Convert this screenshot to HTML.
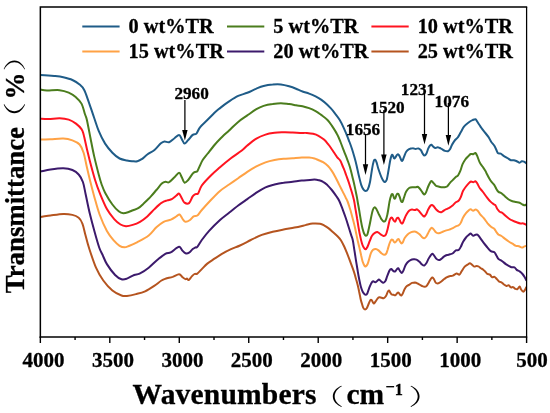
<!DOCTYPE html>
<html><head><meta charset="utf-8"><title>FTIR</title>
<style>
html,body{margin:0;padding:0;background:#fff;}
svg{display:block;}
text{font-family:"Liberation Serif","Noto Serif CJK SC",serif;font-weight:bold;fill:#000;stroke:#000;stroke-width:0.3px;}
.cj{font-family:"Noto Serif CJK SC","Liberation Serif",serif;font-weight:300;stroke:none;}
</style></head><body>
<svg width="550" height="413" viewBox="0 0 550 413">
<rect x="0" y="0" width="550" height="413" fill="#fff"/>

<clipPath id="cp"><rect x="40.35" y="6.9" width="486.25" height="330.1"/></clipPath>
<g clip-path="url(#cp)" fill="none" stroke-linejoin="round" stroke-linecap="round">
<path d="M40.5,75.1C42.8,75.2 50.4,75.6 54.2,76.0C58.0,76.4 60.3,76.6 63.3,77.3C66.3,78.0 69.7,78.8 72.4,80.0C75.1,81.2 77.6,82.8 79.6,84.5C81.6,86.2 82.7,87.1 84.2,90.0C85.7,92.9 87.0,97.1 88.7,101.8C90.4,106.5 92.5,113.2 94.2,118.0C95.9,122.8 96.9,126.6 98.7,130.9C100.5,135.2 102.8,140.0 105.1,143.6C107.4,147.2 110.0,150.2 112.4,152.7C114.8,155.2 117.2,157.2 119.6,158.5C122.0,159.8 124.8,160.0 126.9,160.4C129.0,160.8 130.3,161.0 132.0,161.2C133.7,161.3 135.7,161.7 137.3,161.3C138.9,161.0 140.1,160.2 141.8,159.1C143.5,158.0 145.2,156.0 147.3,154.5C149.4,153.0 152.2,151.9 154.5,150.0C156.8,148.1 159.2,144.7 160.9,143.3C162.6,141.9 163.1,141.7 164.5,141.5C165.9,141.3 167.4,142.8 169.1,142.2C170.8,141.6 172.8,139.4 174.5,138.2C176.2,137.0 177.9,134.9 179.1,135.1C180.3,135.2 180.9,137.7 181.8,139.1C182.7,140.5 183.4,143.4 184.5,143.6C185.6,143.8 186.8,141.4 188.2,140.0C189.6,138.6 191.3,136.0 192.7,134.9C194.1,133.8 195.2,134.9 196.4,133.6C197.6,132.3 198.2,129.6 200.0,127.3C201.8,125.0 204.9,122.4 207.3,120.0C209.7,117.6 212.4,114.7 214.5,112.7C216.6,110.7 217.6,110.0 220.0,108.1C222.4,106.2 226.1,103.4 229.1,101.4C232.1,99.4 235.2,97.3 238.2,95.9C241.2,94.5 244.3,94.0 247.3,92.8C250.3,91.6 253.7,89.7 256.4,88.6C259.1,87.5 260.9,86.7 263.6,86.0C266.3,85.3 269.8,84.8 272.7,84.6C275.6,84.3 278.2,84.2 280.9,84.5C283.6,84.8 286.6,85.6 289.1,86.3C291.6,87.0 293.8,87.8 296.0,88.7C298.2,89.6 300.3,90.7 302.5,91.5C304.7,92.3 306.9,92.8 309.1,93.6C311.3,94.4 313.6,95.4 315.6,96.4C317.6,97.4 319.3,98.3 321.1,99.6C322.9,100.9 324.9,102.5 326.5,104.0C328.1,105.5 329.4,106.8 330.9,108.4C332.4,110.0 333.9,111.9 335.3,113.8C336.8,115.7 338.2,117.5 339.6,119.8C341.0,122.1 342.4,125.0 343.6,127.6C344.8,130.2 345.9,132.9 346.9,135.3C347.9,137.7 348.6,139.7 349.5,142.0C350.4,144.3 351.2,146.5 352.0,149.0C352.8,151.5 353.6,154.2 354.4,157.0C355.2,159.8 356.0,162.9 356.7,166.0C357.4,169.1 358.0,172.3 358.8,175.5C359.6,178.7 360.5,182.8 361.3,185.1C362.1,187.4 362.7,188.4 363.4,189.4C364.1,190.4 364.9,191.1 365.6,191.1C366.3,191.1 367.1,190.8 367.8,189.4C368.5,188.0 369.2,185.8 369.9,182.5C370.6,179.2 371.4,172.8 372.0,169.3C372.6,165.8 373.2,162.9 373.7,161.3C374.2,159.7 374.7,159.6 375.2,159.8C375.7,160.0 376.1,161.1 376.7,162.7C377.2,164.3 377.7,166.9 378.5,169.3C379.3,171.7 380.6,175.3 381.5,177.3C382.4,179.3 383.0,180.4 383.6,181.2C384.2,182.0 384.6,182.2 385.1,181.9C385.6,181.6 386.2,181.6 386.8,179.5C387.4,177.4 388.1,172.5 388.7,169.3C389.3,166.1 389.7,162.8 390.2,160.5C390.7,158.2 391.2,156.4 391.6,155.5C392.0,154.6 392.3,154.5 392.7,155.0C393.1,155.5 393.7,158.0 394.1,158.4C394.5,158.8 394.8,158.2 395.3,157.6C395.8,157.0 396.5,155.4 397.0,154.9C397.5,154.4 397.8,154.1 398.2,154.3C398.6,154.5 399.1,155.2 399.6,156.2C400.1,157.2 400.9,159.6 401.4,160.3C401.9,161.0 402.1,161.1 402.5,160.5C402.9,159.9 403.4,158.3 404.0,156.9C404.6,155.5 405.3,153.1 406.2,151.8C407.1,150.5 408.0,149.8 409.1,149.2C410.2,148.6 411.6,148.2 412.7,148.2C413.8,148.1 414.6,148.9 415.6,148.9C416.6,148.9 417.6,148.2 418.5,148.4C419.4,148.6 420.2,149.3 420.9,150.2C421.6,151.1 422.2,152.9 422.8,153.8C423.4,154.7 423.9,155.6 424.5,155.6C425.1,155.6 425.7,155.0 426.3,153.8C426.9,152.7 427.6,150.1 428.2,148.7C428.8,147.3 429.6,146.1 430.1,145.4C430.7,144.8 431.0,144.6 431.5,144.8C432.0,145.0 432.6,146.3 433.3,146.8C434.0,147.3 434.8,147.9 435.5,148.0C436.2,148.1 436.9,147.3 437.6,147.3C438.3,147.3 439.1,147.7 439.8,148.0C440.5,148.3 441.1,148.7 442.0,149.2C442.9,149.7 443.9,150.6 444.9,150.9C445.9,151.2 447.1,151.5 448.0,151.2C448.9,150.9 449.3,150.3 450.0,149.2C450.7,148.1 451.3,145.9 452.2,144.4C453.1,142.9 454.1,141.2 455.1,140.0C456.1,138.8 457.0,138.4 458.0,137.1C459.0,135.8 459.9,133.7 460.9,132.0C461.9,130.3 462.8,128.2 463.8,126.9C464.8,125.6 465.7,124.8 466.7,124.0C467.7,123.2 468.6,122.5 469.6,121.8C470.6,121.1 471.5,120.5 472.5,120.1C473.5,119.7 474.6,119.0 475.4,119.2C476.2,119.4 476.6,120.6 477.2,121.5C477.8,122.4 478.4,123.5 479.1,124.5C479.8,125.5 480.5,126.6 481.3,127.8C482.1,129.0 483.0,130.1 484.2,131.6C485.4,133.1 487.2,135.2 488.4,136.9C489.6,138.6 490.3,140.6 491.3,142.0C492.3,143.4 493.4,144.3 494.2,145.6C495.0,146.9 495.8,148.7 496.4,150.0C497.0,151.3 497.4,152.7 498.1,153.3C498.8,153.9 499.8,153.2 500.7,153.6C501.6,154.0 502.5,155.1 503.6,155.8C504.7,156.5 506.1,157.3 507.3,158.0C508.5,158.7 509.8,159.8 510.9,160.2C512.0,160.6 512.8,160.0 513.8,160.2C514.8,160.4 515.7,160.8 516.7,161.2C517.7,161.6 518.8,162.7 519.6,162.7C520.5,162.7 521.1,161.4 521.8,161.2C522.5,161.0 523.3,161.3 524.0,161.6C524.7,161.9 525.8,162.8 526.2,163.1" stroke="#1f5c88" stroke-width="2.0"/>
<path d="M40.5,89.6C41.6,89.8 43.7,90.4 46.9,90.5C50.1,90.6 56.0,89.8 59.6,90.2C63.2,90.6 66.0,91.5 68.7,92.7C71.4,93.9 73.9,95.5 76.0,97.3C78.1,99.1 80.0,100.7 81.5,103.6C83.0,106.5 84.2,111.8 85.1,114.5C86.0,117.2 86.0,116.0 86.9,120.0C87.8,124.0 89.3,132.1 90.5,138.2C91.7,144.3 92.8,150.3 94.2,156.4C95.6,162.5 97.5,169.9 98.7,174.5C99.9,179.1 100.4,181.0 101.5,184.0C102.6,187.0 103.3,189.3 105.1,192.7C106.9,196.1 110.1,201.4 112.4,204.5C114.7,207.6 116.9,209.9 118.7,211.3C120.5,212.8 121.6,213.1 123.3,213.2C125.0,213.3 127.1,212.5 128.7,212.0C130.3,211.5 131.4,210.8 133.0,210.2C134.6,209.6 136.4,209.3 138.2,208.2C140.0,207.1 141.5,205.6 143.6,203.6C145.7,201.6 148.8,198.7 150.9,196.4C153.0,194.1 154.6,192.1 156.4,190.0C158.2,187.9 160.3,185.0 161.8,183.6C163.3,182.2 164.3,182.0 165.5,181.8C166.7,181.6 167.6,182.9 169.1,182.2C170.6,181.4 172.8,178.9 174.5,177.3C176.2,175.7 177.9,172.7 179.1,172.7C180.3,172.7 180.9,175.6 181.8,177.3C182.7,179.0 183.4,182.2 184.5,182.7C185.6,183.1 186.8,181.5 188.2,180.0C189.6,178.5 191.5,175.0 192.7,173.6C193.9,172.2 194.7,172.2 195.5,171.8C196.3,171.4 196.6,172.4 197.3,171.3C198.1,170.2 199.1,167.4 200.0,165.5C200.9,163.6 201.5,161.9 202.7,160.0C203.9,158.1 205.3,156.5 207.3,154.0C209.3,151.5 212.4,147.5 214.5,145.0C216.6,142.5 217.6,141.4 220.0,139.0C222.4,136.6 226.1,133.3 229.1,130.5C232.1,127.7 235.2,124.4 238.2,121.9C241.2,119.4 244.3,117.5 247.3,115.4C250.3,113.3 253.7,110.8 256.4,109.2C259.1,107.6 260.9,106.8 263.6,105.9C266.3,105.1 269.8,104.5 272.7,104.1C275.6,103.6 278.2,103.2 280.9,103.2C283.6,103.2 286.6,103.8 289.1,104.1C291.6,104.4 293.8,104.9 296.0,105.3C298.2,105.7 300.3,105.7 302.5,106.2C304.7,106.7 306.9,107.3 309.1,108.1C311.3,108.9 313.6,110.0 315.6,111.1C317.6,112.2 319.1,113.4 321.1,114.9C323.1,116.4 325.7,118.2 327.5,120.0C329.3,121.8 330.2,123.2 331.8,125.6C333.4,128.0 335.7,131.5 337.1,134.2C338.6,136.9 339.4,139.2 340.5,142.0C341.6,144.8 342.8,148.0 343.9,150.9C345.0,153.8 346.3,156.9 347.3,159.6C348.3,162.3 348.9,163.7 349.9,167.0C350.9,170.3 352.2,175.9 353.1,179.6C354.0,183.3 354.7,186.5 355.3,189.4C355.9,192.3 356.5,194.9 356.9,197.1C357.3,199.3 357.4,200.2 357.8,202.5C358.2,204.8 358.8,207.9 359.3,210.9C359.8,213.9 360.4,217.8 360.9,220.7C361.4,223.6 361.9,226.2 362.5,228.4C363.1,230.6 363.6,232.6 364.2,233.8C364.8,235.0 365.3,235.7 365.8,235.8C366.3,235.9 366.8,235.8 367.4,234.4C367.9,233.0 368.5,230.3 369.1,227.3C369.8,224.3 370.7,219.3 371.3,216.4C371.9,213.5 372.4,211.3 372.9,209.8C373.4,208.3 373.9,207.6 374.5,207.4C375.1,207.2 375.6,207.8 376.2,208.7C376.8,209.6 377.7,211.8 378.3,213.1C378.9,214.4 379.5,215.4 380.0,216.4C380.5,217.4 380.9,218.5 381.5,219.3C382.1,220.2 383.0,221.3 383.6,221.5C384.2,221.7 384.8,221.8 385.4,220.7C386.0,219.6 386.6,218.1 387.3,214.9C388.0,211.8 388.9,205.1 389.5,201.8C390.1,198.5 390.7,196.6 391.2,195.3C391.7,194.1 392.2,193.8 392.7,194.3C393.2,194.8 393.7,197.5 394.1,198.2C394.5,198.8 394.9,198.8 395.3,198.2C395.7,197.6 396.2,195.2 396.7,194.5C397.2,193.8 397.7,193.4 398.2,193.8C398.7,194.2 399.1,195.5 399.6,196.7C400.1,197.9 400.6,200.2 401.1,201.1C401.6,201.9 402.0,202.4 402.5,201.8C403.0,201.2 403.4,199.2 404.0,197.5C404.6,195.8 405.3,193.2 406.2,191.6C407.1,190.0 408.0,188.7 409.1,188.0C410.2,187.3 411.6,187.3 412.7,187.2C413.8,187.1 414.8,187.3 415.6,187.2C416.4,187.1 417.0,186.8 417.5,186.8C418.0,186.9 418.1,186.9 418.7,187.5C419.3,188.1 420.2,189.2 420.9,190.1C421.6,191.0 422.2,192.3 422.8,193.0C423.4,193.7 423.8,194.6 424.3,194.5C424.8,194.4 425.4,193.6 426.0,192.3C426.6,191.0 427.5,188.2 428.2,186.5C428.9,184.8 429.8,183.0 430.4,182.1C431.0,181.2 431.3,180.9 431.8,181.1C432.3,181.3 432.9,182.3 433.6,183.1C434.3,183.9 435.1,185.1 435.9,185.7C436.7,186.3 437.5,186.2 438.4,186.5C439.3,186.8 440.3,187.1 441.3,187.2C442.3,187.3 443.2,187.3 444.2,187.2C445.2,187.1 446.1,187.2 447.1,186.5C448.1,185.8 449.0,183.9 450.0,182.8C451.0,181.7 451.9,180.9 452.9,179.9C453.9,178.9 454.9,177.7 455.8,177.0C456.7,176.3 457.3,176.5 458.0,175.5C458.7,174.5 459.4,173.1 460.2,171.2C461.0,169.3 461.8,165.8 462.7,163.9C463.6,162.0 464.4,160.8 465.3,159.5C466.2,158.2 467.3,157.2 468.2,156.3C469.1,155.4 469.9,154.3 470.8,154.0C471.7,153.7 472.5,154.4 473.3,154.2C474.1,154.0 474.8,152.7 475.4,153.0C476.0,153.3 476.5,154.3 477.2,155.9C477.9,157.5 478.8,160.6 479.7,162.4C480.6,164.2 481.7,165.3 482.7,166.8C483.7,168.3 484.9,170.0 485.6,171.2C486.3,172.4 486.1,172.4 486.9,174.0C487.7,175.6 489.3,178.7 490.5,180.5C491.7,182.3 493.2,183.5 494.2,184.9C495.2,186.3 495.7,187.8 496.4,189.0C497.1,190.2 497.6,191.2 498.5,191.9C499.4,192.6 500.4,192.5 501.5,193.3C502.6,194.1 503.9,195.5 505.1,196.5C506.3,197.5 507.5,198.7 508.7,199.5C509.9,200.3 511.2,200.8 512.4,201.2C513.6,201.6 514.8,201.8 516.0,202.1C517.2,202.3 518.5,202.3 519.6,202.7C520.7,203.1 521.6,204.1 522.5,204.5C523.4,204.9 524.1,205.3 524.7,205.3C525.3,205.3 526.0,204.6 526.2,204.5" stroke="#4b7d1d" stroke-width="2.0"/>
<path d="M40.5,118.7C41.9,118.8 45.5,119.2 48.7,119.1C51.9,119.0 56.3,118.1 59.6,118.2C62.9,118.3 66.0,118.7 68.7,119.6C71.4,120.5 73.9,122.0 76.0,123.6C78.1,125.2 80.2,127.3 81.5,129.1C82.8,130.9 82.7,131.2 83.6,134.5C84.5,137.8 85.8,144.2 86.9,149.0C88.1,153.8 89.1,158.4 90.5,163.6C91.9,168.8 93.6,175.2 95.1,180.0C96.6,184.8 97.6,187.8 99.6,192.7C101.6,197.5 104.5,204.7 106.9,209.1C109.3,213.5 111.9,216.5 114.2,219.1C116.5,221.7 118.5,223.3 120.5,224.5C122.5,225.7 124.0,226.1 126.0,226.2C128.0,226.3 130.4,225.6 132.7,224.9C135.0,224.2 137.6,223.2 140.0,221.8C142.4,220.4 144.9,218.5 147.3,216.4C149.7,214.3 152.1,211.4 154.5,209.1C156.9,206.8 159.7,204.1 161.8,202.7C163.9,201.2 165.6,201.0 167.3,200.4C169.0,199.8 170.3,199.9 171.8,199.1C173.3,198.3 175.2,196.4 176.4,195.5C177.6,194.6 178.2,193.2 179.1,193.6C180.0,194.0 180.9,196.7 181.8,198.2C182.7,199.7 183.3,201.9 184.5,202.7C185.7,203.5 187.7,204.1 189.1,203.1C190.5,202.1 191.6,197.9 192.7,196.4C193.8,194.9 194.6,194.7 195.5,194.2C196.4,193.7 197.1,194.8 198.2,193.3C199.2,191.9 199.7,188.5 201.8,185.5C203.9,182.5 207.9,178.5 210.9,175.5C213.9,172.5 216.7,170.2 220.0,167.3C223.3,164.4 227.3,161.1 230.9,158.3C234.5,155.5 239.1,152.6 241.8,150.5C244.5,148.4 244.9,147.5 247.3,145.5C249.7,143.5 253.4,140.4 256.4,138.6C259.4,136.8 262.5,135.6 265.5,134.6C268.5,133.6 271.5,133.2 274.5,132.8C277.5,132.4 280.6,132.4 283.6,132.3C286.6,132.2 290.0,132.4 292.7,132.5C295.4,132.6 297.7,132.8 300.0,132.9C302.3,133.0 304.3,132.8 306.5,132.9C308.7,133.1 311.1,133.3 313.1,133.8C315.1,134.3 316.7,134.8 318.5,135.8C320.3,136.8 322.4,138.2 324.0,139.6C325.6,141.0 326.9,142.7 328.4,144.5C329.8,146.3 331.2,148.4 332.7,150.5C334.1,152.6 335.9,155.4 337.1,157.1C338.4,158.8 339.3,159.1 340.2,160.5C341.1,161.9 341.7,163.8 342.4,165.5C343.1,167.2 343.9,168.8 344.5,170.5C345.1,172.2 345.5,173.2 346.3,175.5C347.1,177.8 348.4,181.1 349.3,184.0C350.2,186.9 351.2,190.0 352.0,192.7C352.8,195.4 353.4,197.6 354.0,200.3C354.6,203.0 354.9,205.7 355.4,208.7C355.9,211.7 356.6,215.2 357.1,218.5C357.7,221.8 358.1,225.3 358.7,228.4C359.2,231.5 359.8,234.6 360.4,237.1C360.9,239.6 361.5,241.8 362.0,243.5C362.5,245.2 363.0,246.3 363.6,247.3C364.2,248.3 364.8,249.4 365.4,249.3C366.0,249.2 366.7,248.4 367.4,247.0C368.1,245.6 369.0,242.8 369.8,240.9C370.6,239.0 371.1,237.1 372.0,235.8C372.9,234.5 373.9,233.5 374.9,232.9C375.9,232.3 376.8,231.9 377.8,232.2C378.8,232.4 379.7,233.8 380.7,234.4C381.7,235.1 382.8,236.0 383.6,236.1C384.5,236.2 385.1,236.0 385.8,234.8C386.5,233.6 387.1,231.0 387.7,228.7C388.3,226.3 389.0,222.5 389.5,220.7C390.0,218.9 390.5,218.3 390.9,217.8C391.3,217.3 391.6,217.3 392.1,217.8C392.6,218.3 393.3,220.1 393.8,220.7C394.3,221.3 394.8,221.9 395.3,221.5C395.8,221.1 396.2,219.1 396.7,218.5C397.2,217.9 397.7,217.6 398.2,217.8C398.7,218.1 399.1,219.2 399.6,220.0C400.1,220.8 400.6,222.3 401.1,222.9C401.6,223.5 402.0,223.8 402.5,223.3C403.0,222.8 403.4,221.4 404.0,220.0C404.6,218.6 405.3,216.4 406.2,214.9C407.1,213.4 408.1,211.7 409.1,210.8C410.1,209.9 411.0,209.6 412.0,209.5C413.0,209.4 414.1,210.2 414.9,210.1C415.7,210.0 416.2,209.1 416.8,209.2C417.4,209.3 417.9,209.9 418.7,210.7C419.4,211.5 420.5,213.0 421.3,213.9C422.1,214.8 422.9,215.7 423.4,216.1C423.9,216.5 424.0,216.8 424.5,216.4C425.0,216.0 425.7,215.1 426.3,213.9C426.9,212.8 427.5,210.8 428.2,209.5C428.9,208.2 429.8,206.7 430.4,205.9C431.0,205.1 431.5,204.8 432.1,204.9C432.7,205.0 433.3,205.8 434.0,206.6C434.7,207.4 435.4,208.7 436.2,209.5C437.0,210.3 437.9,211.2 438.8,211.7C439.7,212.1 440.4,212.4 441.3,212.2C442.2,212.0 443.2,210.9 444.2,210.3C445.2,209.7 446.1,209.3 447.1,208.8C448.1,208.3 449.0,208.0 450.0,207.4C451.0,206.8 451.9,206.0 452.9,205.2C453.9,204.3 454.8,203.1 455.8,202.3C456.8,201.5 457.9,201.5 458.7,200.6C459.5,199.7 460.2,198.5 460.9,196.9C461.6,195.3 462.2,192.5 463.1,190.8C464.0,189.1 465.0,187.8 466.0,186.5C467.0,185.2 468.1,183.9 468.9,183.1C469.7,182.3 470.3,181.7 471.0,181.5C471.7,181.3 472.5,182.2 473.2,182.2C473.9,182.2 474.7,181.1 475.4,181.3C476.1,181.5 476.5,182.2 477.2,183.3C477.9,184.4 478.7,186.6 479.7,188.0C480.7,189.4 481.8,190.4 483.0,192.0C484.2,193.6 485.6,195.7 486.9,197.3C488.1,198.9 489.3,200.4 490.5,201.6C491.7,202.8 493.3,203.8 494.2,204.5C495.1,205.2 495.1,204.7 495.6,205.5C496.2,206.3 496.8,208.3 497.5,209.3C498.2,210.3 498.8,211.1 499.6,211.7C500.4,212.3 501.2,212.0 502.2,212.7C503.2,213.4 504.6,215.0 505.8,216.1C507.0,217.2 508.3,218.2 509.5,219.0C510.7,219.8 511.9,220.3 513.1,220.9C514.3,221.5 515.5,221.9 516.7,222.3C517.9,222.7 519.3,223.2 520.4,223.4C521.5,223.6 522.3,223.2 523.3,223.4C524.3,223.6 525.7,224.6 526.2,224.8" stroke="#ff1420" stroke-width="2.0"/>
<path d="M40.5,139.6C42.2,139.6 46.7,139.5 50.5,139.3C54.3,139.1 59.6,138.3 63.3,138.5C67.0,138.7 69.7,139.4 72.4,140.4C75.1,141.4 77.7,142.4 79.6,144.5C81.5,146.6 82.4,148.9 83.6,152.7C84.8,156.5 85.8,162.5 86.9,167.3C88.0,172.1 89.1,176.7 90.3,181.5C91.5,186.3 92.7,190.9 94.2,196.4C95.8,201.9 97.5,208.8 99.6,214.5C101.7,220.2 104.5,226.5 106.9,230.9C109.3,235.3 112.1,238.4 114.2,240.9C116.3,243.4 117.9,244.7 119.6,245.8C121.3,246.9 122.8,247.3 124.5,247.3C126.2,247.3 127.4,246.5 129.5,245.7C131.6,244.9 133.8,244.0 137.0,242.3C140.2,240.6 145.5,238.0 148.7,235.5C151.9,233.0 153.9,229.6 156.4,227.3C158.9,225.0 161.2,223.1 163.6,221.8C166.0,220.5 168.8,220.5 170.9,219.6C173.0,218.7 175.0,217.2 176.4,216.4C177.8,215.6 178.6,214.1 179.6,214.5C180.6,214.9 181.7,217.9 182.7,219.1C183.7,220.3 184.3,221.7 185.5,221.8C186.7,222.0 188.7,220.9 190.0,220.0C191.3,219.1 192.4,217.2 193.6,216.4C194.8,215.7 195.9,216.6 197.3,215.5C198.7,214.4 199.5,212.6 201.8,210.0C204.1,207.4 207.9,203.2 210.9,200.0C213.9,196.8 217.0,193.5 220.0,190.9C223.0,188.3 226.1,186.6 229.1,184.5C232.1,182.4 235.2,180.3 238.2,178.2C241.2,176.1 244.3,173.8 247.3,171.8C250.3,169.8 253.4,168.0 256.4,166.4C259.4,164.8 262.5,163.5 265.5,162.4C268.5,161.3 271.5,160.6 274.5,160.0C277.5,159.4 280.6,159.0 283.6,158.7C286.6,158.4 289.7,158.4 292.7,158.2C295.7,158.0 299.1,157.7 301.8,157.6C304.5,157.5 307.0,157.4 309.1,157.6C311.2,157.8 313.0,158.1 314.5,158.5C316.0,158.9 316.8,159.4 318.2,160.0C319.6,160.6 321.5,161.2 323.1,162.2C324.7,163.2 326.6,164.6 328.0,166.0C329.4,167.4 330.5,169.0 331.8,170.9C333.1,172.8 334.3,175.0 335.6,177.4C336.9,179.8 338.2,182.7 339.4,185.1C340.6,187.5 341.6,189.4 342.7,191.6C343.8,193.8 345.2,196.5 346.0,198.2C346.8,199.8 346.9,199.8 347.6,201.5C348.3,203.2 349.1,205.9 350.0,208.7C350.9,211.5 351.9,215.4 352.7,218.5C353.5,221.6 354.3,224.6 354.9,227.3C355.5,230.0 356.0,232.5 356.5,234.9C357.0,237.3 357.4,239.4 357.9,241.5C358.4,243.6 358.9,245.3 359.4,247.6C359.9,249.9 360.6,252.9 361.1,255.3C361.7,257.7 362.1,260.1 362.7,261.8C363.2,263.5 363.9,264.8 364.4,265.6C364.9,266.4 365.3,266.7 365.8,266.4C366.3,266.1 367.0,265.3 367.6,264.0C368.2,262.7 368.8,260.3 369.3,258.5C369.9,256.7 370.3,254.5 370.9,253.1C371.5,251.7 372.3,250.5 373.1,249.8C373.9,249.1 374.9,248.8 375.8,248.9C376.7,249.0 377.6,249.7 378.5,250.4C379.4,251.1 380.4,252.4 381.3,253.1C382.2,253.8 383.2,254.6 384.0,254.7C384.8,254.8 385.6,254.5 386.2,253.6C386.8,252.7 387.1,251.2 387.7,249.5C388.2,247.8 388.9,245.1 389.5,243.5C390.1,241.9 390.7,240.5 391.2,239.9C391.7,239.3 392.1,239.5 392.7,239.9C393.2,240.3 393.9,242.1 394.5,242.4C395.1,242.7 395.5,242.1 396.0,241.6C396.5,241.1 397.1,239.9 397.5,239.5C397.9,239.1 398.2,238.7 398.6,239.0C399.0,239.3 399.4,240.6 399.9,241.3C400.4,242.0 400.9,243.2 401.4,243.4C401.9,243.6 402.2,243.3 402.8,242.4C403.4,241.5 403.9,239.3 404.7,238.0C405.5,236.7 406.5,235.4 407.6,234.4C408.7,233.4 410.2,232.7 411.3,232.2C412.4,231.7 413.6,231.6 414.5,231.6C415.4,231.6 415.7,231.6 416.5,232.1C417.3,232.6 418.6,233.5 419.5,234.3C420.4,235.1 421.1,236.2 421.9,236.9C422.7,237.6 423.6,238.3 424.3,238.2C425.0,238.1 425.6,237.5 426.3,236.5C427.0,235.5 427.9,233.4 428.6,232.1C429.3,230.8 430.1,229.4 430.7,228.7C431.3,228.0 431.6,227.7 432.1,227.9C432.7,228.1 433.3,229.1 434.0,229.9C434.7,230.7 435.4,231.9 436.2,232.5C437.0,233.1 437.8,233.4 438.8,233.3C439.8,233.2 440.9,232.6 442.0,232.1C443.1,231.6 444.4,231.0 445.6,230.6C446.8,230.2 448.1,230.0 449.3,229.6C450.5,229.2 451.8,228.8 452.9,228.2C454.0,227.6 454.8,226.8 455.8,226.3C456.8,225.8 457.9,225.9 458.7,225.3C459.5,224.7 460.2,223.9 460.9,222.6C461.6,221.3 462.2,219.1 463.1,217.5C464.0,215.9 465.0,214.4 466.0,213.2C467.0,212.0 468.1,211.0 468.9,210.3C469.7,209.7 470.0,209.2 470.7,209.3C471.4,209.4 472.4,210.7 473.2,210.7C474.0,210.7 474.9,209.4 475.7,209.5C476.5,209.6 477.1,210.2 477.9,211.0C478.7,211.8 479.4,213.4 480.4,214.6C481.4,215.8 482.6,216.7 483.8,218.2C485.0,219.7 486.4,221.9 487.6,223.4C488.9,224.9 490.2,226.1 491.3,227.0C492.4,227.9 493.4,227.8 494.2,228.7C495.0,229.5 495.7,231.1 496.4,232.1C497.1,233.1 497.6,233.9 498.5,234.6C499.4,235.2 500.4,235.3 501.5,236.0C502.6,236.7 503.9,238.0 505.1,238.9C506.3,239.8 507.5,240.7 508.7,241.5C509.9,242.3 511.2,243.0 512.4,243.7C513.6,244.4 514.9,245.5 516.0,245.9C517.1,246.3 517.9,245.9 518.9,246.2C519.9,246.5 520.9,247.4 521.8,247.5C522.6,247.6 523.3,247.0 524.0,246.7C524.7,246.4 525.8,246.0 526.2,245.9" stroke="#ffa245" stroke-width="2.0"/>
<path d="M40.5,171.5C42.2,171.2 46.7,170.1 50.5,169.5C54.3,168.9 59.6,168.1 63.3,168.2C67.0,168.3 69.8,168.9 72.4,170.0C75.0,171.1 77.0,172.5 78.7,174.5C80.5,176.5 81.7,178.7 82.9,182.0C84.1,185.3 84.6,189.4 85.7,194.5C86.8,199.6 88.1,206.5 89.6,212.7C91.1,218.9 92.9,225.7 94.5,231.5C96.1,237.3 97.9,243.7 99.2,247.5C100.5,251.3 101.1,251.7 102.4,254.5C103.7,257.3 104.8,260.7 106.9,264.1C109.0,267.5 112.7,272.5 115.1,275.0C117.5,277.5 119.5,278.6 121.5,279.2C123.5,279.8 124.8,279.3 126.9,278.6C129.0,277.9 132.1,275.8 134.2,275.0C136.3,274.2 137.2,274.9 139.6,273.7C142.0,272.5 145.7,270.1 148.7,267.7C151.7,265.3 155.0,261.8 157.8,259.5C160.6,257.2 163.2,255.0 165.3,253.8C167.5,252.6 168.8,253.3 170.7,252.4C172.5,251.5 174.9,249.1 176.4,248.2C177.9,247.3 178.6,246.4 179.6,246.9C180.6,247.4 181.7,249.8 182.7,250.9C183.7,252.0 184.4,253.0 185.5,253.3C186.6,253.6 187.9,253.4 189.1,252.7C190.3,252.0 191.6,250.0 192.7,249.1C193.8,248.2 194.7,247.7 195.5,247.3C196.3,246.9 196.2,248.1 197.3,246.9C198.4,245.7 199.8,242.7 201.8,240.0C203.8,237.3 206.1,234.2 209.1,230.9C212.1,227.6 216.7,223.0 220.0,220.0C223.3,217.0 226.1,215.1 229.1,212.7C232.1,210.3 235.2,207.8 238.2,205.5C241.2,203.2 244.3,201.2 247.3,199.1C250.3,197.0 253.4,194.7 256.4,192.7C259.4,190.7 262.5,188.7 265.5,187.3C268.5,185.9 271.5,185.3 274.5,184.5C277.5,183.7 280.6,183.1 283.6,182.7C286.6,182.2 289.7,182.2 292.7,181.8C295.7,181.4 298.9,180.8 301.8,180.5C304.7,180.2 307.9,180.1 310.0,179.9C312.1,179.8 312.9,179.6 314.4,179.6C315.8,179.6 317.2,179.8 318.7,180.2C320.1,180.6 321.7,181.0 323.1,181.8C324.6,182.6 325.9,183.7 327.4,185.1C328.8,186.5 330.3,188.2 331.8,190.0C333.3,191.8 334.9,194.2 336.2,196.0C337.4,197.8 338.3,198.9 339.3,201.0C340.3,203.1 341.3,205.9 342.4,208.7C343.4,211.4 344.6,214.6 345.6,217.5C346.6,220.4 347.5,223.3 348.4,226.2C349.3,229.1 350.4,232.6 351.1,234.9C351.8,237.2 352.2,237.5 352.8,240.2C353.4,242.9 353.9,247.3 354.5,250.9C355.1,254.5 355.6,258.4 356.2,261.8C356.8,265.2 357.3,268.5 357.8,271.6C358.3,274.7 358.9,277.8 359.4,280.3C359.9,282.8 360.3,284.8 360.8,286.5C361.3,288.2 361.8,289.7 362.3,290.8C362.8,291.9 363.3,292.7 363.8,293.4C364.3,294.1 364.9,294.8 365.5,294.8C366.1,294.8 366.7,294.5 367.3,293.4C367.9,292.3 368.4,290.0 369.1,288.3C369.8,286.6 370.6,284.4 371.3,283.2C372.0,282.0 372.6,281.5 373.2,281.3C373.8,281.1 374.5,282.2 375.2,282.2C375.9,282.1 376.5,281.4 377.1,281.0C377.7,280.6 378.4,279.4 379.0,279.5C379.6,279.6 380.3,280.8 381.0,281.3C381.7,281.8 382.6,282.8 383.3,282.7C384.0,282.6 384.7,282.1 385.4,281.0C386.1,279.9 386.6,277.6 387.3,275.9C388.0,274.1 388.9,271.6 389.5,270.5C390.1,269.4 390.6,269.1 391.2,269.1C391.8,269.2 392.5,270.4 393.1,270.8C393.7,271.2 394.4,271.7 395.0,271.5C395.6,271.3 396.2,269.9 396.7,269.4C397.2,268.8 397.7,268.0 398.2,268.2C398.7,268.4 399.3,270.0 399.9,270.8C400.5,271.6 401.2,273.1 401.8,273.0C402.4,272.9 403.0,271.4 403.6,270.1C404.2,268.8 404.8,266.5 405.5,265.2C406.2,263.9 406.8,263.1 407.6,262.3C408.4,261.5 409.5,260.6 410.5,260.1C411.5,259.6 412.6,259.4 413.6,259.3C414.6,259.2 415.5,259.2 416.5,259.6C417.5,260.0 418.6,261.0 419.5,261.8C420.4,262.6 421.1,263.8 421.9,264.4C422.7,265.0 423.6,265.7 424.3,265.5C425.0,265.3 425.6,264.4 426.3,263.3C427.0,262.2 427.9,259.9 428.6,258.6C429.3,257.3 430.1,256.1 430.7,255.3C431.3,254.5 431.9,253.7 432.5,253.8C433.1,253.9 433.7,255.2 434.4,256.0C435.1,256.9 435.8,258.2 436.5,258.9C437.2,259.6 438.0,260.1 438.8,260.1C439.6,260.1 440.4,259.5 441.3,258.9C442.2,258.3 443.2,256.9 444.2,256.3C445.2,255.7 446.1,255.3 447.1,255.0C448.1,254.7 449.0,254.6 450.0,254.3C451.0,254.0 451.9,253.9 452.9,253.2C453.9,252.5 454.8,250.8 455.8,250.3C456.8,249.8 457.9,250.6 458.7,250.0C459.5,249.4 460.2,248.0 460.9,246.6C461.6,245.2 462.2,243.3 463.1,241.8C464.0,240.3 465.0,238.7 466.0,237.5C467.0,236.3 468.1,235.5 468.9,234.8C469.7,234.1 470.0,233.3 470.7,233.5C471.4,233.7 472.4,235.5 473.2,235.7C474.0,235.9 474.8,235.0 475.5,234.8C476.2,234.6 476.8,234.3 477.5,234.7C478.2,235.1 478.6,235.9 479.6,237.2C480.6,238.5 482.2,241.0 483.5,242.7C484.8,244.4 486.1,245.9 487.3,247.3C488.5,248.7 489.6,250.4 490.8,251.2C492.0,252.0 493.5,251.5 494.4,252.2C495.3,252.9 495.7,254.4 496.4,255.5C497.1,256.6 497.5,258.1 498.5,259.0C499.5,259.9 501.0,260.3 502.2,261.2C503.4,262.1 504.7,263.3 505.8,264.1C506.9,264.9 507.7,265.3 508.7,265.8C509.7,266.3 510.6,267.1 511.6,267.3C512.6,267.6 513.6,266.9 514.5,267.3C515.4,267.7 515.9,269.2 516.7,269.9C517.6,270.6 518.6,270.7 519.6,271.4C520.6,272.1 521.6,273.0 522.5,274.0C523.4,275.0 524.1,276.2 524.7,277.2C525.3,278.2 526.0,279.6 526.2,280.1" stroke="#3c1a6c" stroke-width="2.0"/>
<path d="M40.5,216.9C42.2,216.7 46.7,216.0 50.5,215.5C54.3,215.0 59.6,214.1 63.3,214.0C67.0,213.9 69.8,214.3 72.4,214.9C75.0,215.5 77.0,216.4 78.7,217.8C80.4,219.2 81.3,220.8 82.4,223.6C83.5,226.4 84.2,230.3 85.3,234.5C86.4,238.7 87.4,243.0 89.2,248.5C91.0,254.0 93.7,262.4 96.0,267.7C98.3,273.0 100.6,276.7 103.3,280.5C106.0,284.3 109.4,288.0 112.4,290.5C115.4,293.0 119.1,294.6 121.5,295.5C123.9,296.4 124.5,296.1 126.9,295.9C129.3,295.7 133.0,294.9 136.0,294.1C139.0,293.4 142.1,292.8 145.1,291.4C148.1,290.0 151.5,287.7 154.2,285.9C156.9,284.1 159.6,281.7 161.5,280.5C163.4,279.3 163.6,279.3 165.5,278.7C167.4,278.1 170.4,277.6 172.7,276.9C175.0,276.1 177.4,274.1 179.1,274.2C180.8,274.3 181.6,276.5 182.7,277.3C183.8,278.1 184.8,278.9 185.5,279.1C186.2,279.3 186.5,278.5 187.0,278.6C187.5,278.8 187.9,280.4 188.7,280.0C189.5,279.6 190.8,277.4 191.8,276.4C192.8,275.4 193.6,274.5 194.5,274.0C195.4,273.5 196.1,274.4 197.3,273.6C198.5,272.8 200.1,270.8 201.8,269.1C203.5,267.4 205.2,265.3 207.3,263.6C209.4,261.9 212.1,260.3 214.5,258.7C216.9,257.1 218.8,255.8 221.5,254.2C224.2,252.6 227.9,250.6 231.0,249.2C234.1,247.8 236.7,247.0 240.0,245.5C243.3,244.0 247.3,241.8 250.9,240.0C254.5,238.2 258.2,236.3 261.8,234.9C265.4,233.5 269.1,232.7 272.7,231.8C276.3,230.9 280.0,230.2 283.6,229.5C287.2,228.8 290.9,228.3 294.5,227.6C298.1,226.9 302.5,225.8 305.5,225.1C308.5,224.4 310.3,223.8 312.7,223.6C315.1,223.4 318.1,223.5 320.0,223.8C321.9,224.1 322.9,224.8 324.4,225.6C325.8,226.4 327.2,227.3 328.7,228.4C330.1,229.5 331.6,230.9 333.1,232.2C334.6,233.5 336.2,234.9 337.5,236.2C338.8,237.5 339.8,238.5 340.9,240.2C342.0,241.9 343.1,244.2 344.2,246.5C345.3,248.8 346.3,251.5 347.4,254.2C348.5,256.9 349.6,260.0 350.7,262.9C351.8,265.8 353.0,268.9 353.9,271.6C354.8,274.3 355.5,277.0 356.1,279.3C356.8,281.6 357.3,283.5 357.8,285.5C358.3,287.5 358.7,289.3 359.1,291.5C359.6,293.7 360.1,296.5 360.5,298.5C360.9,300.5 361.3,301.7 361.8,303.3C362.3,304.9 362.8,306.9 363.3,307.9C363.8,308.9 364.4,309.4 365.0,309.4C365.6,309.4 366.3,308.9 366.9,307.9C367.5,306.9 368.2,304.8 368.8,303.5C369.4,302.2 370.0,300.4 370.5,299.9C371.0,299.4 371.5,300.0 372.0,300.6C372.5,301.2 373.1,303.4 373.7,303.5C374.3,303.6 375.0,302.2 375.6,301.4C376.2,300.6 376.9,299.4 377.5,298.7C378.1,298.0 378.6,297.5 379.3,297.3C380.0,297.1 380.8,297.6 381.5,297.7C382.2,297.8 382.9,298.4 383.6,298.2C384.3,298.0 385.1,297.4 385.8,296.3C386.5,295.2 387.2,292.9 387.7,291.9C388.2,290.9 388.6,290.4 389.0,290.5C389.4,290.6 389.8,291.9 390.2,292.6C390.6,293.3 391.1,294.1 391.6,294.5C392.2,294.9 392.9,294.7 393.5,294.8C394.1,294.9 394.7,295.5 395.3,295.3C395.9,295.1 396.5,293.8 397.0,293.4C397.5,292.9 398.0,292.4 398.5,292.6C399.0,292.8 399.4,294.0 399.9,294.5C400.4,295.0 400.9,295.7 401.4,295.5C401.9,295.3 402.2,294.5 402.8,293.4C403.4,292.3 404.0,290.2 404.7,289.0C405.4,287.8 406.1,286.8 406.9,286.1C407.7,285.4 408.6,285.1 409.5,284.6C410.4,284.1 411.1,283.2 412.0,282.9C412.9,282.6 414.1,282.6 414.9,282.6C415.7,282.7 416.4,282.9 417.0,283.2C417.6,283.4 417.9,283.7 418.7,284.1C419.5,284.5 420.6,285.4 421.6,285.8C422.6,286.2 423.6,286.8 424.5,286.8C425.4,286.8 426.0,286.6 426.7,285.8C427.4,285.0 428.2,283.4 428.9,282.2C429.6,281.0 430.5,279.3 431.1,278.5C431.7,277.7 432.0,277.4 432.5,277.5C433.0,277.6 433.4,278.4 434.0,279.3C434.6,280.2 435.2,282.2 435.9,282.9C436.6,283.6 437.5,283.5 438.4,283.3C439.3,283.1 440.3,282.2 441.3,281.5C442.3,280.8 443.2,279.7 444.2,279.0C445.2,278.3 446.1,277.6 447.1,277.1C448.1,276.6 449.0,276.4 450.0,276.1C451.0,275.9 451.8,276.0 452.9,275.6C454.0,275.2 455.4,273.7 456.5,273.5C457.6,273.3 458.6,275.0 459.5,274.6C460.4,274.2 460.8,272.6 461.6,271.3C462.4,270.0 463.5,268.0 464.5,266.9C465.5,265.8 466.6,265.3 467.5,264.7C468.4,264.1 469.2,263.2 470.0,263.3C470.8,263.4 471.6,264.4 472.3,265.0C473.0,265.6 473.5,266.4 474.2,266.6C474.9,266.8 475.7,266.0 476.4,266.0C477.1,266.0 477.9,266.1 478.6,266.5C479.3,266.9 480.1,267.7 480.8,268.2C481.5,268.7 482.3,268.9 483.0,269.5C483.7,270.1 484.5,270.8 485.2,271.5C485.9,272.2 486.5,273.4 487.3,273.9C488.1,274.4 489.1,274.1 489.9,274.6C490.7,275.2 491.2,276.8 492.0,277.2C492.8,277.6 493.8,276.5 494.6,276.9C495.5,277.3 496.3,278.6 497.1,279.4C497.9,280.2 498.6,281.3 499.3,281.8C500.0,282.3 500.8,281.9 501.5,282.3C502.2,282.7 502.8,283.6 503.6,284.2C504.4,284.8 505.6,285.7 506.5,285.9C507.4,286.1 508.0,284.9 508.7,285.2C509.4,285.4 510.2,287.1 510.9,287.4C511.6,287.7 512.4,286.9 513.1,287.1C513.8,287.3 514.6,288.5 515.3,288.8C516.0,289.1 516.8,289.5 517.5,289.1C518.2,288.7 519.0,286.5 519.6,286.6C520.2,286.7 520.5,288.6 521.1,289.5C521.7,290.4 522.6,291.7 523.3,291.7C524.0,291.7 524.7,290.2 525.2,289.5C525.7,288.8 526.0,287.8 526.2,287.4" stroke="#b5541f" stroke-width="2.0"/>
</g>
<path d="M40.35,337.7V6.9H527.2" fill="none" stroke="#000" stroke-width="1.5" stroke-linejoin="miter"/>
<path d="M526.6,6.9V337.0" fill="none" stroke="#000" stroke-width="1.25"/>
<path d="M39.6,337.0H527.2" fill="none" stroke="#000" stroke-width="1.4"/>
<path d="M40.35,337.0V343.0M75.08,337.0V340.0M109.81,337.0V343.0M144.55,337.0V340.0M179.28,337.0V343.0M214.01,337.0V340.0M248.74,337.0V343.0M283.47,337.0V340.0M318.21,337.0V343.0M352.94,337.0V340.0M387.67,337.0V343.0M422.40,337.0V340.0M457.14,337.0V343.0M491.87,337.0V340.0M526.60,337.0V343.0" stroke="#000" stroke-width="1.4" fill="none"/>
<text x="43.5" y="367.0" font-size="21" text-anchor="middle">4000</text>
<text x="112.9" y="367.0" font-size="21" text-anchor="middle">3500</text>
<text x="182.4" y="367.0" font-size="21" text-anchor="middle">3000</text>
<text x="251.8" y="367.0" font-size="21" text-anchor="middle">2500</text>
<text x="321.3" y="367.0" font-size="21" text-anchor="middle">2000</text>
<text x="390.8" y="367.0" font-size="21" text-anchor="middle">1500</text>
<text x="460.2" y="367.0" font-size="21" text-anchor="middle">1000</text>
<text x="532.0" y="367.0" font-size="21" text-anchor="middle">500</text>
<path d="M82.3,26.4H119.6" stroke="#1f5c88" stroke-width="2.0" fill="none"/>
<text x="128.6" y="33.0" font-size="20.3">0 wt%TR</text>
<path d="M227.0,26.4H264.3" stroke="#4b7d1d" stroke-width="2.0" fill="none"/>
<text x="273.3" y="33.0" font-size="20.3">5 wt%TR</text>
<path d="M371.4,26.4H408.7" stroke="#ff1420" stroke-width="2.0" fill="none"/>
<text x="417.7" y="33.0" font-size="20.3">10 wt%TR</text>
<path d="M82.3,51.6H119.6" stroke="#ffa245" stroke-width="2.0" fill="none"/>
<text x="128.6" y="58.2" font-size="20.3">15 wt%TR</text>
<path d="M227.0,51.6H264.3" stroke="#3c1a6c" stroke-width="2.0" fill="none"/>
<text x="273.3" y="58.2" font-size="20.3">20 wt%TR</text>
<path d="M371.4,51.6H408.7" stroke="#b5541f" stroke-width="2.0" fill="none"/>
<text x="417.7" y="58.2" font-size="20.3">25 wt%TR</text>
<path d="M184.9,100V134.5" stroke="#000" stroke-width="1.25" fill="none"/><path d="M182.20000000000002,129.9L187.6,129.9L184.9,140.5Z" fill="#000"/>
<path d="M365.5,134V168.9" stroke="#000" stroke-width="1.25" fill="none"/><path d="M362.8,164.3L368.2,164.3L365.5,174.9Z" fill="#000"/>
<path d="M383.9,110V159.0" stroke="#000" stroke-width="1.25" fill="none"/><path d="M381.2,154.4L386.59999999999997,154.4L383.9,165.0Z" fill="#000"/>
<path d="M424.5,91V138.60000000000002" stroke="#000" stroke-width="1.25" fill="none"/><path d="M421.8,134.00000000000003L427.2,134.00000000000003L424.5,144.60000000000002Z" fill="#000"/>
<path d="M448.4,103V139.70000000000002" stroke="#000" stroke-width="1.25" fill="none"/><path d="M445.7,135.10000000000002L451.09999999999997,135.10000000000002L448.4,145.70000000000002Z" fill="#000"/>
<text x="191.6" y="99.0" font-size="17.2" text-anchor="middle">2960</text>
<text x="363.0" y="134.6" font-size="17.2" text-anchor="middle">1656</text>
<text x="387.5" y="113.4" font-size="17.2" text-anchor="middle">1520</text>
<text x="418.0" y="95.3" font-size="17.2" text-anchor="middle">1231</text>
<text x="451.8" y="107.2" font-size="17.2" text-anchor="middle">1076</text>
<text x="132.6" y="404.1" font-size="29.5" letter-spacing="0.2">Wavenumbers</text>
<text class="cj" transform="translate(312.1,404.7) scale(1.4,1)" font-size="22.8">（</text>
<text x="346.4" y="404.1" font-size="29.5">cm</text>
<text x="385.4" y="394.9" font-size="16.3"><tspan dy="-2.6">−</tspan><tspan dy="2.6">1</tspan></text>
<text class="cj" transform="translate(408.4,404.7) scale(1.4,1)" font-size="22.8">）</text>
<g transform="translate(24.2,293.2) rotate(-90)">
<text x="0" y="0" font-size="26.8">Transmittance</text>
<text class="cj" transform="translate(159.3,-1.4) scale(1.4,1)" font-size="22.8">（</text>
<text x="193.6" y="0" font-size="27">%</text>
<text class="cj" transform="translate(221.7,-1.4) scale(1.4,1)" font-size="22.8">）</text>
</g>
</svg></body></html>
